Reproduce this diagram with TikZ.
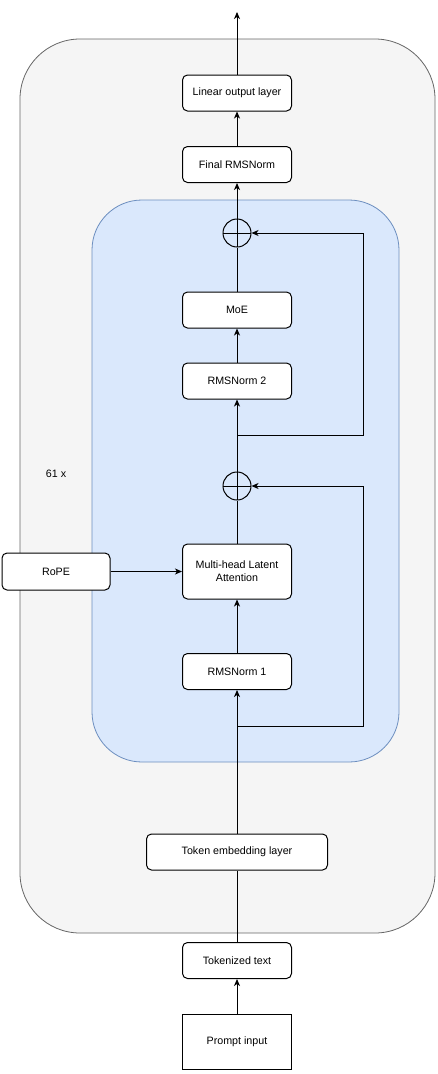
\documentclass[tikz,border=0pt]{standalone}
\usepackage{fontspec}
\setmainfont{Liberation Sans}
\usetikzlibrary{arrows.meta,positioning}
\definecolor{stackfill}{HTML}{F5F5F5}
\definecolor{stackline}{HTML}{666666}
\definecolor{blockfill}{HTML}{DAE8FC}
\definecolor{blockline}{HTML}{6C8EBF}

\begin{document}
\begin{tikzpicture}[
    x=1pt, y=-1pt,
    node distance=80pt,
    line width=1pt,
    >={Stealth[length=7pt,width=6pt,inset=2pt]},
    font=\fontsize{10.7}{13}\selectfont,
    layer/.style={
		rectangle,
		rounded corners=5pt,
		draw=black, 
		text centered,
		inner sep=2pt,
		minimum height=36pt,
		minimum width=109pt,
		fill=white
	},
	adder/.style={
		circle,
		draw=black,
		inner sep=0pt,
		minimum size=28pt,
		path picture={
		  \draw (path picture bounding box.north) -- (path picture bounding box.south)
		        (path picture bounding box.west) -- (path picture bounding box.east);
		}
	},
	container/.style={
		rectangle,
		line width=0.8pt,
		inner sep=0pt
	}
  ]

\useasboundingbox (0,0) rectangle (437,1074);

% // The stack
\node [container, fill=stackfill, draw=stackline, rounded corners=60pt,
minimum width=415pt, minimum height=894pt] (stack) at (227.5,486) {};
% // The transformer block
\node [container, fill=blockfill, draw=blockline, rounded corners=50pt,
minimum width=307pt, minimum height=562pt] (block) at (245.5,481) {};

\node (repeat) at (56,474) {61 x};

 \node [layer, sharp corners, minimum height=55pt] (prompt) at (237,1041.5) {Prompt input};
 \node [layer, above of=prompt, yshift=1pt] (tokens) {Tokenized text};
 \node [layer, above of=tokens, yshift=28.5pt, minimum width=181pt] (embed) {Token embedding layer};
 \node [layer, above of=embed, yshift=100.5pt] (norm1) {RMSNorm 1};
 \node [layer, above of=norm1, yshift=20pt, minimum height=55pt, align=center] (mla) {Multi-head Latent\\Attention};
 \node [adder, above of=mla, yshift=5.5pt] (add1) {};
 \node [layer, above of=add1, yshift=25pt] (norm2) {RMSNorm 2};
 \node [layer, above of=norm2, yshift=-9pt] (moe) {MoE};
 \node [adder, above of=moe, yshift=-3pt] (add2) {};
 \node [layer, above of=add2, yshift=-11.5pt] (final) {Final RMSNorm};
 \node [layer, above of=final, yshift=-8.5pt] (linear) {Linear output layer};
 \coordinate [above of=linear, yshift=1pt] (out);

 \node [layer, left of=mla, xshift=-101pt, minimum width=108pt, minimum height=37pt] (rope) {RoPE};

% // residual branches
 \coordinate [below of=norm1, yshift=25.5pt] (skip1);
 \coordinate [below of=norm2, yshift=26pt] (skip2);

 \draw [->] (prompt) -- (tokens);
 \draw (tokens) -- (embed);
 \draw [->] (embed) -- (norm1);
 \draw [->] (norm1) -- (mla);
 \draw [->] (rope) -- (mla);
 \draw (mla) -- (add1);
 \draw [->] (add1) -- (norm2);
 \draw [->] (norm2) -- (moe);
 \draw (moe) -- (add2);
 \draw [->] (add2) -- (final);
 \draw [->] (final) -- (linear);
 \draw [->] (linear) -- (out);

 \draw [->] (skip1) -- ++(126,0) |- (add1);
 \draw [->] (skip2) -- ++(126,0) |- (add2);

\end{tikzpicture}
\end{document}
